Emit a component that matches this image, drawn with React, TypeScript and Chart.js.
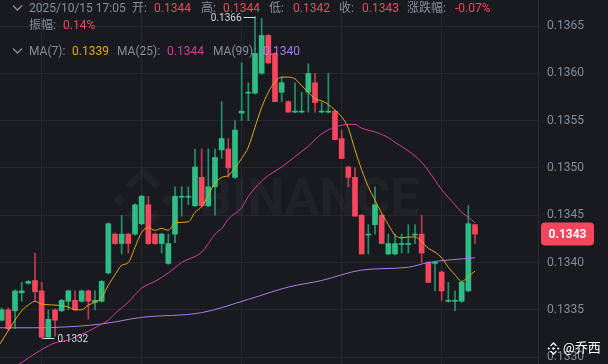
import React, { useEffect, useRef } from 'react';
import { Chart, registerables } from 'chart.js';

Chart.register(...registerables);

// ---- candle data (one entry per candle, left to right) ----
const OPEN = [
  0.13339, 0.13350, 0.13349, 0.13368, 0.13378, 0.13381, 0.13370, 0.13321, 0.13350, 0.13349,
  0.13359, 0.13360, 0.13359, 0.13370, 0.13358, 0.13359, 0.13389, 0.13430, 0.13420, 0.13430,
  0.13430, 0.13441, 0.13461, 0.13430, 0.13420, 0.13399, 0.13430, 0.13469, 0.13469, 0.13460,
  0.13490, 0.13460, 0.13480, 0.13519, 0.13520, 0.13490, 0.13558, 0.13579, 0.13579, 0.13600,
  0.13640, 0.13621, 0.13580, 0.13570, 0.13559, 0.13559, 0.13580, 0.13590, 0.13559, 0.13559,
  0.13560, 0.13531, 0.13501, 0.13490, 0.13450, 0.13429, 0.13440, 0.13450, 0.13409, 0.13409,
  0.13419, 0.13419, 0.13429, 0.13430, 0.13400, 0.13399, 0.13390, 0.13359, 0.13359, 0.13359,
  0.13370, 0.13440,
];
const HIGH = [
  0.13352, 0.13352, 0.13371, 0.13379, 0.13381, 0.13410, 0.13379, 0.13350, 0.13351, 0.13361,
  0.13371, 0.13370, 0.13371, 0.13371, 0.13370, 0.13381, 0.13442, 0.13431, 0.13450, 0.13431,
  0.13462, 0.13471, 0.13470, 0.13431, 0.13431, 0.13430, 0.13480, 0.13480, 0.13480, 0.13520,
  0.13520, 0.13520, 0.13520, 0.13570, 0.13531, 0.13550, 0.13611, 0.13590, 0.13660, 0.13658,
  0.13641, 0.13622, 0.13596, 0.13571, 0.13590, 0.13580, 0.13610, 0.13600, 0.13570, 0.13600,
  0.13561, 0.13540, 0.13502, 0.13500, 0.13451, 0.13440, 0.13480, 0.13451, 0.13430, 0.13430,
  0.13430, 0.13440, 0.13440, 0.13450, 0.13401, 0.13401, 0.13391, 0.13379, 0.13370, 0.13380,
  0.13460, 0.13440,
];
const LOW = [
  0.13338, 0.13328, 0.13330, 0.13359, 0.13377, 0.13360, 0.13320, 0.13321, 0.13322, 0.13348,
  0.13350, 0.13349, 0.13358, 0.13340, 0.13350, 0.13358, 0.13388, 0.13419, 0.13409, 0.13410,
  0.13429, 0.13440, 0.13419, 0.13419, 0.13410, 0.13398, 0.13421, 0.13449, 0.13461, 0.13459,
  0.13459, 0.13459, 0.13450, 0.13510, 0.13490, 0.13489, 0.13550, 0.13550, 0.13578, 0.13599,
  0.13610, 0.13570, 0.13570, 0.13559, 0.13558, 0.13558, 0.13559, 0.13559, 0.13558, 0.13558,
  0.13530, 0.13510, 0.13480, 0.13449, 0.13409, 0.13409, 0.13430, 0.13420, 0.13408, 0.13408,
  0.13410, 0.13410, 0.13420, 0.13400, 0.13379, 0.13370, 0.13360, 0.13358, 0.13349, 0.13358,
  0.13369, 0.13420,
];
const CLOSE = [
  0.13350, 0.13330, 0.13370, 0.13370, 0.13380, 0.13369, 0.13321, 0.13340, 0.13339, 0.13360,
  0.13370, 0.13350, 0.13370, 0.13359, 0.13360, 0.13380, 0.13441, 0.13420, 0.13430, 0.13420,
  0.13461, 0.13470, 0.13420, 0.13420, 0.13430, 0.13420, 0.13470, 0.13470, 0.13470, 0.13501,
  0.13460, 0.13480, 0.13511, 0.13531, 0.13500, 0.13540, 0.13560, 0.13580, 0.13621, 0.13640,
  0.13611, 0.13570, 0.13590, 0.13559, 0.13560, 0.13560, 0.13600, 0.13569, 0.13560, 0.13560,
  0.13530, 0.13510, 0.13490, 0.13449, 0.13409, 0.13430, 0.13461, 0.13420, 0.13420, 0.13420,
  0.13420, 0.13420, 0.13430, 0.13410, 0.13379, 0.13400, 0.13370, 0.13360, 0.13360, 0.13379,
  0.13441, 0.13430,
];

// ---- moving averages, read at candle positions ----
const MA7_X = [-0.25, 2, 3, 4, 5, 6, 8, 10, 11, 12, 13, 14, 15, 16, 17, 18, 19, 20, 21, 22, 23, 24, 25, 26, 28, 29, 30, 31, 32, 33, 34, 35, 36, 37, 38, 39, 40, 41, 42, 43, 44, 45, 46, 47, 48, 49, 50, 51, 52, 53, 54, 55, 56, 57, 58, 59, 60, 61, 62, 63, 64, 65, 66, 67, 68, 69, 70, 71];
const MA7_V = [0.13314, 0.13339, 0.13349, 0.13355, 0.13359, 0.13356, 0.13355, 0.13353, 0.13350, 0.13350, 0.13355, 0.13358, 0.13363, 0.13376, 0.13387, 0.13397, 0.13400, 0.13416, 0.13432, 0.13437, 0.13434, 0.13436, 0.13434, 0.13442, 0.13443, 0.13453, 0.13459, 0.13471, 0.13484, 0.13490, 0.13492, 0.13500, 0.13510, 0.13522, 0.13543, 0.13564, 0.13580, 0.13591, 0.13596, 0.13596, 0.13594, 0.13587, 0.13580, 0.13573, 0.13571, 0.13567, 0.13561, 0.13554, 0.13542, 0.13519, 0.13498, 0.13480, 0.13466, 0.13452, 0.13440, 0.13429, 0.13426, 0.13427, 0.13427, 0.13422, 0.13415, 0.13411, 0.13405, 0.13395, 0.13387, 0.13380, 0.13385, 0.13391];

const MA25_X = [1, 4, 6, 8, 10, 12, 14, 15, 16, 17, 18, 19, 20, 21, 23, 25, 27, 30, 31, 32, 33, 34, 36, 37, 39, 40, 42, 44, 46, 48, 50, 52, 53, 54, 56, 58, 59, 61, 63, 64, 65, 66, 68, 69, 70, 71];
const MA25_V = [0.13285, 0.13299, 0.13308, 0.13315, 0.13318, 0.13324, 0.13331, 0.13335, 0.13339, 0.13346, 0.13352, 0.13358, 0.13366, 0.13373, 0.13380, 0.13389, 0.13400, 0.13411, 0.13420, 0.13430, 0.13436, 0.13446, 0.13458, 0.13470, 0.13486, 0.13492, 0.13501, 0.13512, 0.13523, 0.13536, 0.13543, 0.13546, 0.13546, 0.13542, 0.13538, 0.13532, 0.13527, 0.13518, 0.13506, 0.13497, 0.13487, 0.13477, 0.13461, 0.13453, 0.13448, 0.13442];

const MA99_X = [-0.25, 5, 10, 15, 21, 30, 37, 43, 48, 54, 61, 64, 71];
const MA99_V = [0.13331, 0.13331, 0.13332, 0.13335, 0.13342, 0.13347, 0.13361, 0.13374, 0.13381, 0.13392, 0.13395, 0.13400, 0.13405];

// ---- axes ----
const Y_TICKS = [0.1330, 0.1335, 0.1340, 0.1345, 0.1350, 0.1355, 0.1360, 0.1365];
const Y_MIN = 0.132927;
const Y_MAX = 0.136775;
const X_GRID = [6, 21, 36, 51, 66];
const X_MIN = -0.25;
const X_MAX = 80.45;

// ---- styles ----
const BG = '#181a20';
const GRID = '#24272d';
const UP = '#2ebd85';
const DOWN = '#f6465d';
const UP_WICK = '#22946a';
const DOWN_WICK = '#c23a4f';
const MA7_C = '#e3a90f';
const MA25_C = '#d13f9e';
const MA99_C = '#a87de6';
const LABEL = '#848e9c';
const FONT = "Roboto, 'Noto Sans CJK SC', sans-serif";

const isUp = (i: number) => CLOSE[i] >= OPEN[i];

const logoPath = (ctx: CanvasRenderingContext2D, cx: number, cy: number, s: number) => {
  const poly = (pts: number[][]) => {
    ctx.beginPath();
    pts.forEach(([x, y], k) => (k ? ctx.lineTo(cx + x * s, cy + y * s) : ctx.moveTo(cx + x * s, cy + y * s)));
    ctx.closePath();
    ctx.fill();
  };
  const dia = (x: number, y: number, h: number) => poly([[x, y - h], [x + h, y], [x, y + h], [x - h, y]]);
  dia(0, 0, 0.24);
  dia(-0.72, 0, 0.2);
  dia(0.72, 0, 0.2);
  poly([[0, -1], [0.52, -0.48], [0.37, -0.33], [0, -0.7], [-0.37, -0.33], [-0.52, -0.48]]);
  poly([[0, 1], [0.52, 0.48], [0.37, 0.33], [0, 0.7], [-0.37, 0.33], [-0.52, 0.48]]);
};

const decorPlugin = {
  id: 'decor',
  beforeDatasetsDraw(chart: any) {
    const ctx: CanvasRenderingContext2D = chart.ctx;
    ctx.save();
    ctx.fillStyle = 'rgba(255,255,255,0.035)';
    logoPath(ctx, 143, 200, 33);
    ctx.font = `bold 52px ${FONT}`;
    ctx.textBaseline = 'alphabetic';
    ctx.textAlign = 'left';
    ctx.fillText('BINANCE', 199, 215);
    ctx.restore();
  },
  afterDraw(chart: any) {
    const ctx: CanvasRenderingContext2D = chart.ctx;
    const xs = chart.scales.x;
    const ys = chart.scales.y;
    ctx.save();
    // max / min markers
    let hi = 0;
    let lo = 0;
    HIGH.forEach((v, i) => { if (v > HIGH[hi]) hi = i; });
    LOW.forEach((v, i) => { if (v < LOW[lo]) lo = i; });
    ctx.font = `10px ${FONT}`;
    ctx.textBaseline = 'middle';
    ctx.strokeStyle = '#d5d8dc';
    ctx.fillStyle = '#d5d8dc';
    ctx.lineWidth = 1;
    const hx = Math.round(xs.getPixelForValue(hi)) + 0.5;
    const hy = Math.round(ys.getPixelForValue(HIGH[hi])) + 0.5;
    ctx.beginPath(); ctx.moveTo(hx - 12, hy); ctx.lineTo(hx, hy); ctx.stroke();
    ctx.textAlign = 'right';
    ctx.fillText(HIGH[hi].toFixed(4), hx - 14, hy + 0.5);
    const lx = Math.round(xs.getPixelForValue(lo)) + 0.5;
    const ly = Math.round(ys.getPixelForValue(LOW[lo])) + 0.5;
    ctx.beginPath(); ctx.moveTo(lx, ly); ctx.lineTo(lx + 12, ly); ctx.stroke();
    ctx.textAlign = 'left';
    ctx.fillText(LOW[lo].toFixed(4), lx + 15, ly + 0.5);
    // last price tag
    const last = CLOSE[CLOSE.length - 1];
    const py = ys.getPixelForValue(last);
    const left = chart.chartArea.right + 3;
    const w = 53;
    const h = 23;
    ctx.fillStyle = DOWN;
    ctx.beginPath();
    (ctx as any).roundRect(left, py - h / 2, w, h, 4);
    ctx.fill();
    ctx.fillStyle = '#ffffff';
    ctx.font = `bold 12px ${FONT}`;
    ctx.textAlign = 'center';
    ctx.fillText(last.toFixed(4), left + w / 2, py + 0.5);
    ctx.restore();
  },
};

const Txt = ({ x, y, c, size = 12, children }: any) => (
  <span
    style={{
      position: 'absolute', left: x, top: y, color: c, fontSize: size, lineHeight: '12px',
      fontFamily: FONT, whiteSpace: 'nowrap',
    }}
  >
    {children}
  </span>
);

const Chevron = ({ y }: { y: number }) => (
  <svg style={{ position: 'absolute', left: 12, top: y, overflow: 'visible' }} width={11} height={6}>
    <polyline points="1,0.5 5.5,5 10,0.5" fill="none" stroke={LABEL} strokeWidth={1.3} />
  </svg>
);

export default function App() {
  const ref = useRef<HTMLCanvasElement>(null);
  useEffect(() => {
    document.body.style.margin = '0';
    document.body.style.background = BG;
    const wickColors = OPEN.map((_, i) => (isUp(i) ? UP_WICK : DOWN_WICK));
    const bodyColors = OPEN.map((_, i) => (isUp(i) ? UP : DOWN));
    const line = (xs: number[], vs: number[], color: string, order: number) => ({
      type: 'line' as const,
      data: xs.map((x, k) => ({ x, y: vs[k] })),
      borderColor: color,
      borderWidth: 1,
      pointRadius: 0,
      tension: 0.35,
      cubicInterpolationMode: 'monotone' as const,
      fill: false,
      order,
    });
    const chart = new Chart(ref.current as HTMLCanvasElement, {
      type: 'bar',
      data: {
        datasets: [
          line(MA7_X, MA7_V, MA7_C, 0),
          line(MA25_X, MA25_V, MA25_C, 1),
          line(MA99_X, MA99_V, MA99_C, 2),
          {
            type: 'bar',
            data: OPEN.map((o, i) => ({ x: i, y: [o, CLOSE[i]] })) as any,
            backgroundColor: bodyColors,
            barThickness: 5,
            grouped: false,
            minBarLength: 1,
            borderWidth: 0,
            order: 3,
          },
          {
            type: 'bar',
            data: LOW.map((l, i) => ({ x: i, y: [l, HIGH[i]] })) as any,
            backgroundColor: wickColors,
            barThickness: 1,
            grouped: false,
            borderWidth: 0,
            order: 4,
          },
        ] as any,
      },
      options: {
        animation: false,
        responsive: false,
        events: [],
        layout: { padding: 0 },
        plugins: { legend: { display: false }, tooltip: { enabled: false } },
        scales: {
          x: {
            type: 'linear',
            min: X_MIN,
            max: X_MAX,
            offset: false,
            grid: { color: GRID, drawTicks: false, offset: false },
            border: { display: false },
            ticks: { display: false },
            afterBuildTicks: (s: any) => { s.ticks = X_GRID.map((v) => ({ value: v })); },
            afterFit: (s: any) => { s.height = 0; s.paddingLeft = 0; s.paddingRight = 0; },
          },
          y: {
            type: 'linear',
            position: 'right',
            min: Y_MIN,
            max: Y_MAX,
            grid: { color: GRID, drawTicks: false },
            border: { display: true, color: '#2a2d34' },
            ticks: {
              color: LABEL,
              font: { size: 12, family: FONT },
              padding: 9,
              autoSkip: false,
              callback: (v: any) => Number(v).toFixed(4),
            },
            afterBuildTicks: (s: any) => { s.ticks = Y_TICKS.map((v) => ({ value: v })); },
            afterFit: (s: any) => { s.width = 70; s.paddingTop = 0; s.paddingBottom = 0; },
          },
        } as any,
      },
      plugins: [decorPlugin],
    });
    return () => chart.destroy();
  }, []);

  return (
    <div style={{ position: 'relative', width: 608, height: 364, background: BG, overflow: 'hidden' }}>
      <canvas ref={ref} width={608} height={364} style={{ display: 'block' }} />
      <Chevron y={5} />
      <Txt x={29} y={2} c={LABEL}>2025/10/15 17:05</Txt>
      <Txt x={132} y={2} c={LABEL}>开:</Txt>
      <Txt x={154} y={2} c={DOWN}>0.1344</Txt>
      <Txt x={201} y={2} c={LABEL}>高:</Txt>
      <Txt x={223} y={2} c={DOWN}>0.1344</Txt>
      <Txt x={269} y={2} c={LABEL}>低:</Txt>
      <Txt x={293} y={2} c={DOWN}>0.1342</Txt>
      <Txt x={339} y={2} c={LABEL}>收:</Txt>
      <Txt x={362} y={2} c={DOWN}>0.1343</Txt>
      <Txt x={407} y={2} c={LABEL}>涨跌幅:</Txt>
      <Txt x={455} y={2} c={DOWN}>-0.07%</Txt>
      <Txt x={29} y={19} c={LABEL}>振幅:</Txt>
      <Txt x={63} y={19} c={DOWN}>0.14%</Txt>
      <Chevron y={47.5} />
      <Txt x={29} y={45} c={LABEL}>MA(7):</Txt>
      <Txt x={72} y={45} c={MA7_C}>0.1339</Txt>
      <Txt x={117} y={45} c={LABEL}>MA(25):</Txt>
      <Txt x={167} y={45} c={MA25_C}>0.1344</Txt>
      <Txt x={213} y={45} c={LABEL}>MA(99):</Txt>
      <Txt x={263} y={45} c={MA99_C}>0.1340</Txt>
      <svg style={{ position: 'absolute', left: 547, top: 342 }} width={13} height={13} viewBox="-1 -1 2 2">
        <g fill="#ffffff">
          <path d="M0,-0.24 L0.24,0 L0,0.24 L-0.24,0 Z" />
          <path d="M-0.72,-0.2 L-0.52,0 L-0.72,0.2 L-0.92,0 Z" />
          <path d="M0.72,-0.2 L0.92,0 L0.72,0.2 L0.52,0 Z" />
          <path d="M0,-1 L0.52,-0.48 L0.37,-0.33 L0,-0.7 L-0.37,-0.33 L-0.52,-0.48 Z" />
          <path d="M0,1 L0.52,0.48 L0.37,0.33 L0,0.7 L-0.37,0.33 L-0.52,0.48 Z" />
        </g>
      </svg>
      <Txt x={563} y={342} c="#ffffff" size={13}>@乔西</Txt>
    </div>
  );
}
